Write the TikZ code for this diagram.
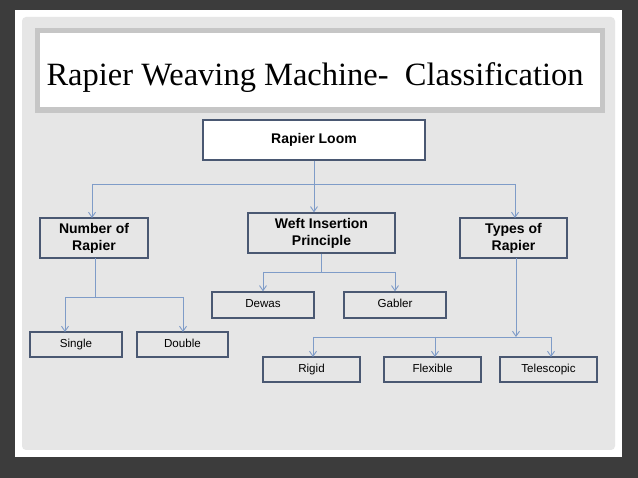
\documentclass[tikz,border=0pt]{standalone}
\usepackage{fontspec}
\setmainfont{Liberation Serif}
\setsansfont{Liberation Sans}
\usetikzlibrary{arrows.meta}
\definecolor{bgdark}{HTML}{3C3C3C}
\definecolor{panel}{HTML}{E6E6E6}
\definecolor{bord}{HTML}{4A5872}
\definecolor{conn}{HTML}{7F9CC8}
\tikzset{
 box/.style={draw=bord,line width=1.3pt,fill=#1,font=\sffamily\fontsize{14}{17}\selectfont\bfseries,align=center,inner sep=0pt},
 box/.default=panel,
 leaf/.style={draw=bord,line width=1.3pt,fill=panel,font=\sffamily\fontsize{11.6}{13}\selectfont,inner sep=0pt,text height=8.5pt,text depth=2.5pt},
 conn/.style={draw=conn,line width=0.9pt},
 arr/.style={conn,-{Straight Barb[length=5pt,width=7pt]}}
}
\begin{document}
\begin{tikzpicture}[x=1pt,y=-1pt]
\fill[bgdark] (0,0) rectangle (638,478);
\useasboundingbox (0,0) rectangle (638,478);
\fill[white] (15,10) rectangle (622,457);
\fill[panel,rounded corners=4pt] (22,17) rectangle (615,450);
\fill[gray!45] (35,28) rectangle (605,113);
\fill[white] (40,33) rectangle (600,107);
\node[font=\fontsize{32.5}{36}\selectfont,anchor=west] (title) at (43,78) {Rapier Weaving Machine-\ \ Classification};
\node[box=white,minimum width=222pt,minimum height=40pt] (loom) at (314,140) {Rapier Loom};
\node[box,minimum width=108pt,minimum height=40pt] (num) at (94,238) {Number of\\Rapier};
\node[box,minimum width=147pt,minimum height=40pt] (weft) at (321.5,233) {Weft Insertion\\Principle};
\node[box,minimum width=107pt,minimum height=40pt] (types) at (513.5,238) {Types of\\Rapier};
\node[leaf,minimum width=102pt,minimum height=26pt] (dewas) at (263,305) {Dewas};
\node[leaf,minimum width=102pt,minimum height=26pt] (gabler) at (395,305) {Gabler};
\node[leaf,minimum width=92pt,minimum height=25pt] (single) at (76,344.5) {Single};
\node[leaf,minimum width=91pt,minimum height=25pt] (double) at (182.5,344.5) {Double};
\node[leaf,minimum width=97pt,minimum height=25pt] (rigid) at (311.5,369.5) {Rigid};
\node[leaf,minimum width=97pt,minimum height=25pt] (flex) at (432.5,369.5) {Flexible};
\node[leaf,minimum width=97pt,minimum height=25pt] (tele) at (548.5,369.5) {Telescopic};
% top level
\draw[arr] (loom.south) -- (loom.south |- weft.north);
\draw[conn] (92,184) -- (515,184);
\draw[arr] (92,184) -- (92,218);
\draw[arr] (515,184) -- (515,218);
% weft
\draw[conn] (weft.south) -- (weft.south |- 0,272);
\draw[conn] (dewas.north |- 0,272) -- (gabler.north |- 0,272);
\draw[arr] (dewas.north |- 0,272) -- (dewas.north);
\draw[arr] (gabler.north |- 0,272) -- (gabler.north);
% number
\draw[conn] (95,258) -- (95,297);
\draw[conn] (65,297) -- (183,297);
\draw[arr] (65,297) -- (65,332);
\draw[arr] (183,297) -- (183,332);
% types
\draw[arr] (516,258) -- (516,337);
\draw[conn] (313,337) -- (551,337);
\draw[arr] (313,337) -- (313,357);
\draw[arr] (435,337) -- (435,357);
\draw[arr] (551,337) -- (551,357);
\end{tikzpicture}
\end{document}
